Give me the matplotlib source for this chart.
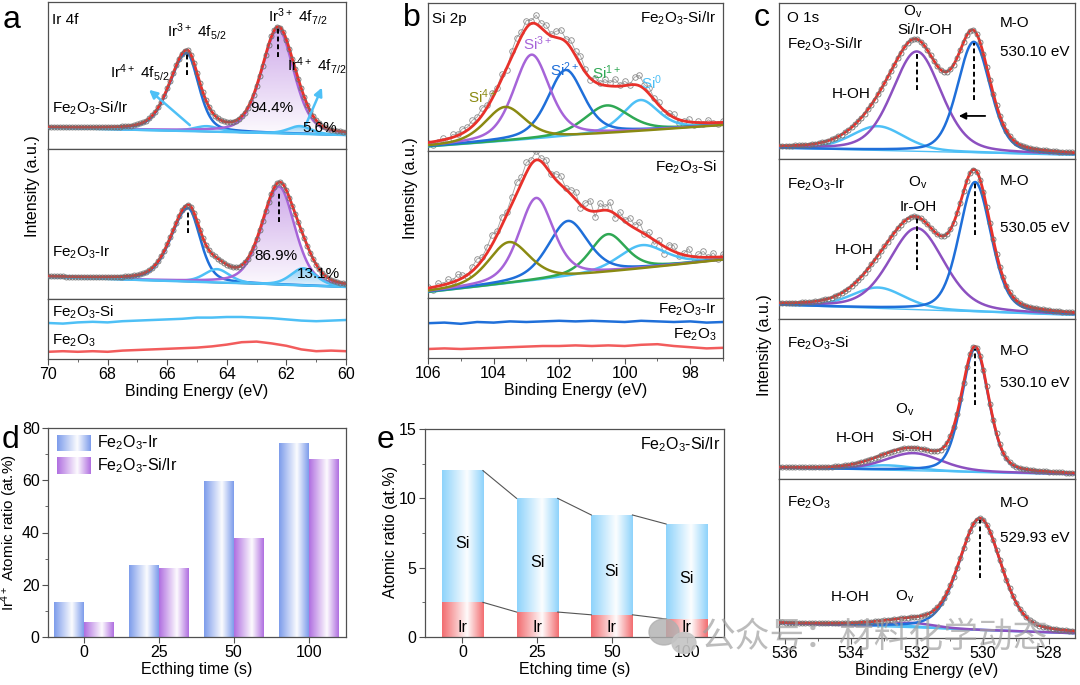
import numpy as np
import matplotlib.pyplot as plt
from matplotlib.colors import to_rgb
from matplotlib.patches import Ellipse

plt.rcParams['font.family'] = ['Liberation Sans', 'DejaVu Sans']
plt.rcParams['mathtext.default'] = 'regular'
plt.rcParams['axes.linewidth'] = 0.9
plt.rcParams['axes.edgecolor'] = '#505050'
plt.rcParams['xtick.color'] = '#505050'
plt.rcParams['ytick.color'] = '#505050'
plt.rcParams['xtick.labelcolor'] = 'black'
plt.rcParams['ytick.labelcolor'] = 'black'

RED = '#e8312b'
BLUE = '#1f6fd9'
PURPLE = '#a664d8'
PURPLE_C = '#8c50c0'
LBLUE = '#4ec0f6'
OLIVE = '#8a8a12'
GREEN = '#2fa854'
BASE = '#1e3d5c'

# ---- a: Ir 4f ---- components: Ir3+ 4f5/2, Ir4+ 4f5/2, Ir3+ 4f7/2, Ir4+ 4f7/2
A1_CEN = [65.35, 64.67, 62.28, 61.55]
A1_HGT = [0.53, 0.037, 0.71, 0.053]
A1_WHI = [1.35, 1.0, 1.30, 0.9]
A1_WLO = [0.95, 1.0, 1.25, 0.9]
A1_BG = [0.145, 0.095]
A2_CEN = [65.30, 64.33, 62.25, 61.43]
A2_HGT = [0.49, 0.09, 0.655, 0.115]
A2_WHI = [1.35, 1.0, 1.35, 1.0]
A2_WLO = [0.95, 1.0, 1.25, 1.0]
A2_BG = [0.147, 0.08]
A3_E = [70, 69.5, 69, 68.5, 68, 67.5, 67, 66.5, 66, 65.5, 65, 64.5, 64, 63.5, 63,
        62.5, 62, 61.5, 61, 60.5, 60]
A3_SI = [0.60, 0.59, 0.61, 0.62, 0.61, 0.63, 0.64, 0.65, 0.66, 0.67, 0.69, 0.69, 0.70,
         0.70, 0.69, 0.68, 0.66, 0.64, 0.63, 0.64, 0.65]
A3_FE = [0.12, 0.13, 0.12, 0.13, 0.12, 0.14, 0.15, 0.16, 0.17, 0.18, 0.19, 0.21, 0.24,
         0.28, 0.29, 0.26, 0.22, 0.16, 0.13, 0.14, 0.13]

# ---- b: Si 2p ---- components: Si4+, Si3+, Si2+, Si1+, Si0
B1_CEN = [103.65, 102.84, 101.80, 100.55, 99.52]
B1_HGT = [0.23, 0.57, 0.45, 0.19, 0.21]
B1_FW = [1.45, 1.3, 1.3, 1.6, 1.3]
B1_BG = [0.03, 0.175]
B2_CEN = [103.53, 102.70, 101.73, 100.51, 99.48]
B2_HGT = [0.28, 0.56, 0.38, 0.26, 0.16]
B2_FW = [1.5, 1.25, 1.45, 1.3, 1.7]
B2_BG = [0.04, 0.26]
B1_RES = [0.00, -0.02, -0.01, 0.01, -0.01, 0.02, 0.01, 0.03, 0.02, 0.04,
          0.03, 0.05, 0.02, 0.04, 0.01, 0.03, -0.01, 0.04, 0.06, 0.03,
          0.05, 0.02, 0.06, 0.03, 0.05, 0.01, 0.04, 0.06, 0.02, 0.05,
          0.03, 0.06, 0.02, -0.01, 0.03, 0.01, 0.04, 0.02, 0.05, 0.01,
          0.03, 0.00, 0.05, 0.07, 0.03, 0.04, 0.01, 0.02, -0.01, 0.01,
          0.02, -0.02, 0.00, 0.02, -0.02, 0.01, -0.01, 0.02, 0.00, -0.01, 0.01]
B2_RES = [0.01, -0.02, 0.02, 0.00, 0.03, 0.01, 0.04, 0.02, -0.01, 0.03,
          0.05, 0.02, 0.04, 0.07, 0.03, 0.06, 0.02, 0.05, 0.08, 0.04,
          0.07, 0.03, 0.06, 0.02, 0.05, 0.00, 0.04, 0.06, 0.01, 0.03,
          0.05, -0.02, 0.04, 0.07, -0.04, 0.05, 0.02, 0.06, -0.03, 0.04,
          0.01, 0.05, 0.02, 0.06, 0.00, 0.03, -0.03, 0.02, -0.05, 0.03,
          0.04, -0.02, 0.01, 0.05, -0.01, 0.02, 0.04, 0.00, 0.03, -0.01, 0.02]
B3_E = [106, 105.5, 105, 104.5, 104, 103.5, 103, 102.5, 102, 101.5, 101, 100.5, 100,
        99.5, 99, 98.5, 98, 97.5, 97]
B3_IR = [0.58, 0.59, 0.57, 0.60, 0.59, 0.61, 0.60, 0.61, 0.62, 0.61, 0.62, 0.61, 0.60,
         0.62, 0.61, 0.60, 0.61, 0.59, 0.60]
B3_FE = [0.15, 0.16, 0.15, 0.16, 0.17, 0.18, 0.19, 0.20, 0.20, 0.21, 0.20, 0.21, 0.20,
         0.22, 0.23, 0.20, 0.18, 0.16, 0.17]

# ---- c: O 1s ---- components: H-OH, Ov/M-OH, M-O
C_CEN = [[533.18, 532.00, 530.27], [533.17, 532.00, 530.23],
         [532.90, 532.10, 530.23], [533.00, 532.15, 530.08]]
C_HGT = [[0.155, 0.64, 0.71], [0.13, 0.51, 0.81], [0.03, 0.11, 0.77], [0.012, 0.03, 0.70]]
C_FW = [[1.9, 1.75, 1.17], [1.9, 1.95, 1.14], [2.0, 2.0, 0.97], [2.5, 1.6, 1.5]]
C_BG = [[0.07, 0.026], [0.0875, 0.025], [0.07, 0.03], [0.094, 0.03]]

# ---- d / e ----
TIMES = ['0', '25', '50', '100']
IR4_FE_IR = [13.1, 27.4, 59.4, 74.0]
IR4_FE_SIIR = [5.6, 26.4, 37.8, 67.8]
E_IR = [2.5, 1.8, 1.6, 1.3]
E_SI = [9.5, 8.2, 7.2, 6.85]

W, H = 1080, 685
fig = plt.figure(figsize=(W / 100, H / 100), dpi=100)
FS = 11
TS = 11.5


def add_ax(x0, y0, x1, y1):
    return fig.add_axes([x0 / W, 1 - y1 / H, (x1 - x0) / W, (y1 - y0) / H])


def ftxt(px, py, s, **kw):
    kw.setdefault('fontsize', FS)
    kw.setdefault('va', 'center')
    fig.text(px / W, 1 - py / H, s, **kw)


def peak(x, c, h, whi, wlo=None, eta=0.3):
    if wlo is None:
        wlo = whi
    w = np.where(x > c, whi, wlo)
    g = np.exp(-4 * np.log(2) * ((x - c) / w) ** 2)
    lo = 1 / (1 + (2 * (x - c) / w) ** 2)
    return h * ((1 - eta) * g + eta * lo)


def linbg(x, bg, xl, xr):
    return bg[0] + (bg[1] - bg[0]) * (xl - x) / (xl - xr)


def grad_fill(ax, x, ytop, ybot, color, a_top=0.6, a_bot=0.05):
    poly = ax.fill_between(x, ybot, ytop, color='none', lw=0)
    rgb = to_rgb(color)
    img = np.ones((128, 1, 4))
    img[..., :3] = rgb
    img[:, 0, 3] = np.linspace(a_top, a_bot, 128)
    im = ax.imshow(img, extent=[x.min(), x.max(), ybot.min(), ytop.max()],
                   aspect='auto', origin='upper', zorder=1, interpolation='bilinear')
    im.set_clip_path(poly.get_paths()[0], transform=ax.transData)


def hgrad_bar(ax, x0, x1, y0, y1, color, z=2):
    rgb = np.array(to_rgb(color))
    t = np.linspace(0, 1, 128)
    w = np.where(t < 0.6, 1 - t / 0.6 * 0.97, 0.03 + (t - 0.6) / 0.4 * 0.97)
    img = 1 - w[None, :, None] * (1 - rgb[None, None, :])
    ax.imshow(img, extent=[x0, x1, y0, y1], aspect='auto', zorder=z,
              interpolation='bilinear')


def spec_style(ax, xl, xr, ticks=None):
    ax.set_xlim(xl, xr)
    ax.set_ylim(0, 1)
    ax.set_yticks([])
    if ticks is not None:
        ax.set_xticks(ticks)
        ax.set_xticklabels([f'{v:g}' for v in ticks])
        lo = np.ceil(min(xl, xr))
        ax.set_xticks(np.arange(lo, max(xl, xr) + 0.01, 1), minor=True)
        ax.tick_params(axis='x', which='major', direction='out', length=4, labelsize=TS, pad=2)
        ax.tick_params(axis='x', which='minor', direction='out', length=2)
        ax.set_xlabel('Binding Energy (eV)', fontsize=TS, labelpad=1)
    else:
        ax.set_xticks([])


# ================= panel a =================
xa = np.linspace(70, 60, 601)
xa_dat = np.arange(70, 59.95, -0.1)
a_axes = [add_ax(48, 2, 346, 149), add_ax(48, 149, 346, 299), add_ax(48, 299, 346, 359)]
for ax, cen, hgt, whi, wlo, bg in [(a_axes[0], A1_CEN, A1_HGT, A1_WHI, A1_WLO, A1_BG),
                                   (a_axes[1], A2_CEN, A2_HGT, A2_WHI, A2_WLO, A2_BG)]:
    base = linbg(xa, bg, 70, 60)
    comps = [peak(xa, c, h, wh, wl, 0.35) for c, h, wh, wl in zip(cen, hgt, whi, wlo)]
    env = base + sum(comps)
    grad_fill(ax, xa, base + comps[2], base, PURPLE, 0.55, 0.03)
    grad_fill(ax, xa, base + comps[3], base, LBLUE, 0.6, 0.1)
    ax.plot(xa, base, color=BASE, lw=1.0, zorder=3)
    for comp, col in zip(comps, [BLUE, LBLUE, PURPLE, LBLUE]):
        ax.plot(xa, base + comp, color=col, lw=1.8, zorder=3)
    envd = linbg(xa_dat, bg, 70, 60) + sum(peak(xa_dat, c, h, wh, wl, 0.35)
                                             for c, h, wh, wl in zip(cen, hgt, whi, wlo))
    ax.plot(xa, env, color=RED, lw=2.0, zorder=4)
    ax.plot(xa_dat, envd, 'o', ms=3.6, mfc='none', mec='#707070', mew=0.6, zorder=5)
    spec_style(ax, 70, 60)
dash = (0, (2.5, 1.5))
a_axes[0].vlines(A1_CEN[0], 0.503, 0.653, colors='k', linestyles=dash, lw=1.4, zorder=6)
a_axes[0].vlines(A1_CEN[2], 0.626, 0.823, colors='k', linestyles=dash, lw=1.4, zorder=6)
a_axes[1].vlines(A2_CEN[0], 0.44, 0.593, colors='k', linestyles=dash, lw=1.4, zorder=6)
a_axes[1].vlines(A2_CEN[2], 0.513, 0.713, colors='k', linestyles=dash, lw=1.4, zorder=6)
a_axes[0].annotate('', xy=(66.68, 0.415), xytext=(65.17, 0.15),
                   arrowprops=dict(arrowstyle='-|>', color=LBLUE, lw=1.8, mutation_scale=12), zorder=6)
a_axes[0].annotate('', xy=(60.77, 0.435), xytext=(61.38, 0.15),
                   arrowprops=dict(arrowstyle='-|>', color=LBLUE, lw=1.8, mutation_scale=12), zorder=6)
ax = a_axes[2]
ax.plot(A3_E, A3_SI, color=LBLUE, lw=1.8)
ax.plot(A3_E, A3_FE, color='#f25c5c', lw=1.8)
spec_style(ax, 70, 60, ticks=[70, 68, 66, 64, 62, 60])

ftxt(52, 20, 'Ir 4f')
ftxt(197, 31, 'Ir$^{3+}$ 4f$_{5/2}$', ha='center')
ftxt(298, 16, 'Ir$^{3+}$ 4f$_{7/2}$', ha='center')
ftxt(140, 72, 'Ir$^{4+}$ 4f$_{5/2}$', ha='center')
ftxt(347, 65, 'Ir$^{4+}$ 4f$_{7/2}$', ha='right')
ftxt(272, 108, '94.4%', ha='center')
ftxt(320, 128, '5.6%', ha='center')
ftxt(52, 108, 'Fe$_2$O$_3$-Si/Ir')
ftxt(52, 253, 'Fe$_2$O$_3$-Ir')
ftxt(276, 256, '86.9%', ha='center')
ftxt(318, 274, '13.1%', ha='center')
ftxt(52, 312, 'Fe$_2$O$_3$-Si')
ftxt(52, 341, 'Fe$_2$O$_3$')
ftxt(33, 186, 'Intensity (a.u.)', rotation=90, ha='center', fontsize=TS)

# ================= panel b =================
xb = np.linspace(106, 97, 451)
xb_dat = np.linspace(106, 97, 61)
b_axes = [add_ax(428, 3, 723, 151), add_ax(428, 151, 723, 298), add_ax(428, 298, 723, 358)]
b_cols = [OLIVE, PURPLE, BLUE, GREEN, LBLUE]
for ax, cen, hgt, fw, bg, res in [(b_axes[0], B1_CEN, B1_HGT, B1_FW, B1_BG, B1_RES),
                                  (b_axes[1], B2_CEN, B2_HGT, B2_FW, B2_BG, B2_RES)]:
    base = linbg(xb, bg, 106, 97)
    comps = [peak(xb, c, h, w, eta=0.45) for c, h, w in zip(cen, hgt, fw)]
    envd = linbg(xb_dat, bg, 106, 97) + sum(peak(xb_dat, c, h, w, eta=0.45)
                                            for c, h, w in zip(cen, hgt, fw))
    ax.plot(xb_dat, envd + np.array(res), '-o', color='#a0a0a0', lw=0.6, ms=4, mfc='none',
            mec='#8a8a8a', mew=0.6, zorder=2)
    for comp, col in zip(comps[::-1], b_cols[::-1]):
        ax.plot(xb, base + comp, color=col, lw=1.8, zorder=3)
    ax.plot(xb, base + sum(comps), color=RED, lw=2.0, zorder=4)
    spec_style(ax, 106, 97)
ax = b_axes[2]
ax.plot(B3_E, B3_IR, color=BLUE, lw=1.8)
ax.plot(B3_E, B3_FE, color='#f25c5c', lw=1.8)
spec_style(ax, 106, 97, ticks=[106, 104, 102, 100, 98])

ftxt(432, 19, 'Si 2p')
ftxt(717, 18, 'Fe$_2$O$_3$-Si/Ir', ha='right')
ftxt(483, 97, 'Si$^{4+}$', ha='center', color=OLIVE)
ftxt(538, 44, 'Si$^{3+}$', ha='center', color=PURPLE)
ftxt(565, 70, 'Si$^{2+}$', ha='center', color=BLUE)
ftxt(607, 73, 'Si$^{1+}$', ha='center', color=GREEN)
ftxt(652, 83, 'Si$^{0}$', ha='center', color=LBLUE)
ftxt(717, 167, 'Fe$_2$O$_3$-Si', ha='right')
ftxt(717, 310, 'Fe$_2$O$_3$-Ir', ha='right')
ftxt(717, 335, 'Fe$_2$O$_3$', ha='right')
ftxt(411, 188, 'Intensity (a.u.)', rotation=90, ha='center', fontsize=TS)

# ================= panel c =================
xc = np.linspace(536.18, 527.2, 451)
xc_dat = np.arange(536.18, 527.2, -0.1)
c_rows = [(3, 159), (159, 319), (319, 479), (479, 638)]
c_axes = []
for i, (y0, y1) in enumerate(c_rows):
    ax = add_ax(779, y0, 1075, y1)
    c_axes.append(ax)
    base = linbg(xc, C_BG[i], 536.18, 527.2)
    comps = [peak(xc, c, h, w) for c, h, w in zip(C_CEN[i], C_HGT[i], C_FW[i])]
    envd = linbg(xc_dat, C_BG[i], 536.18, 527.2) + sum(
        peak(xc_dat, c, h, w) for c, h, w in zip(C_CEN[i], C_HGT[i], C_FW[i]))
    ax.plot(xc, base, color=LBLUE, lw=1.0, zorder=3)
    for comp, col in zip(comps, [LBLUE, PURPLE_C, BLUE]):
        ax.plot(xc, base + comp, color=col, lw=1.8, zorder=3)
    ax.plot(xc, base + sum(comps), color=RED, lw=2.0, zorder=4)
    ax.plot(xc_dat, envd, 'o', ms=3.6, mfc='none', mec='#707070', mew=0.6, zorder=5)
    spec_style(ax, 536.18, 527.2, ticks=[536, 534, 532, 530, 528] if i == 3 else None)
c_axes[0].vlines(532.0, 0.442, 0.686, colors='k', linestyles=dash, lw=1.4, zorder=6)
c_axes[0].vlines(530.27, 0.378, 0.744, colors='k', linestyles=dash, lw=1.4, zorder=6)
c_axes[1].vlines(532.0, 0.306, 0.631, colors='k', linestyles=dash, lw=1.4, zorder=6)
c_axes[1].vlines(530.23, 0.525, 0.856, colors='k', linestyles=dash, lw=1.4, zorder=6)
c_axes[2].vlines(530.23, 0.4625, 0.81, colors='k', linestyles=dash, lw=1.4, zorder=6)
c_axes[3].vlines(530.08, 0.377, 0.742, colors='k', linestyles=dash, lw=1.4, zorder=6)
c_axes[0].annotate('', xy=(530.81, 0.276), xytext=(529.84, 0.276),
                   arrowprops=dict(arrowstyle='-|>', color='k', lw=1.3, mutation_scale=10), zorder=6)

ftxt(787, 18, 'O 1s')
ftxt(787, 44, 'Fe$_2$O$_3$-Si/Ir')
ftxt(913, 12, 'O$_v$', ha='center')
ftxt(925, 30, 'Si/Ir-OH', ha='center')
ftxt(851, 94, 'H-OH', ha='center')
ftxt(1000, 23, 'M-O')
ftxt(1000, 52, '530.10 eV')
ftxt(787, 185, 'Fe$_2$O$_3$-Ir')
ftxt(918, 183, 'O$_v$', ha='center')
ftxt(918, 207, 'Ir-OH', ha='center')
ftxt(854, 250, 'H-OH', ha='center')
ftxt(1000, 181, 'M-O')
ftxt(1000, 228, '530.05 eV')
ftxt(787, 343, 'Fe$_2$O$_3$-Si')
ftxt(905, 410, 'O$_v$', ha='center')
ftxt(912, 437, 'Si-OH', ha='center')
ftxt(855, 438, 'H-OH', ha='center')
ftxt(1000, 351, 'M-O')
ftxt(1000, 383, '530.10 eV')
ftxt(787, 503, 'Fe$_2$O$_3$')
ftxt(1000, 503, 'M-O')
ftxt(1000, 538, '529.93 eV')
ftxt(850, 597, 'H-OH', ha='center')
ftxt(905, 597, 'O$_v$', ha='center')
ftxt(765, 345, 'Intensity (a.u.)', rotation=90, ha='center', fontsize=TS)

# ================= panel d =================
axd = add_ax(48, 428, 346, 637)
pos = np.arange(len(TIMES))
for i in pos:
    hgrad_bar(axd, i - 0.4, i, 0, IR4_FE_IR[i], '#7d9ceb')
    hgrad_bar(axd, i, i + 0.4, 0, IR4_FE_SIIR[i], '#b06fe0')
hgrad_bar(axd, -0.36, 0.093, 71.3, 77.4, '#7d9ceb')
hgrad_bar(axd, -0.36, 0.093, 62.4, 68.6, '#b06fe0')
axd.text(0.17, 74.3, 'Fe$_2$O$_3$-Ir', fontsize=TS, va='center')
axd.text(0.17, 65.5, 'Fe$_2$O$_3$-Si/Ir', fontsize=TS, va='center')
axd.set_xlim(-0.48, 3.5)
axd.set_ylim(0, 80)
axd.set_xticks(pos)
axd.set_xticklabels(TIMES)
axd.set_yticks([0, 20, 40, 60, 80])
axd.set_yticks([10, 30, 50, 70], minor=True)
axd.tick_params(direction='out', length=4, labelsize=TS, pad=2)
axd.tick_params(which='minor', direction='out', length=2)
axd.set_xlabel('Ecthing time (s)', fontsize=TS, labelpad=1)
ftxt(9, 533, 'Ir$^{4+}$ Atomic ratio (at.%)', rotation=90, ha='center', fontsize=11)

# ================= panel e =================
axe = add_ax(425, 429, 724, 637)
bw = 0.55
tops = [a + b for a, b in zip(E_IR, E_SI)]
for i in pos:
    hgrad_bar(axe, i - bw / 2, i + bw / 2, 0, E_IR[i], '#f26d70')
    hgrad_bar(axe, i - bw / 2, i + bw / 2, E_IR[i], tops[i], '#8ed3fb')
    axe.text(i, E_IR[i] + E_SI[i] / 2 - 0.5, 'Si', ha='center', va='center', fontsize=TS, zorder=4)
    axe.text(i, 0.7, 'Ir', ha='center', va='center', fontsize=TS, zorder=4)
for i in pos[:-1]:
    axe.plot([i + bw / 2, i + 1 - bw / 2], [tops[i], tops[i + 1]], color='#555555', lw=0.8, zorder=3)
    axe.plot([i + bw / 2, i + 1 - bw / 2], [E_IR[i], E_IR[i + 1]], color='#555555', lw=0.8, zorder=3)
axe.text(3.45, 13.9, 'Fe$_2$O$_3$-Si/Ir', ha='right', va='center', fontsize=TS)
axe.set_xlim(-0.5, 3.5)
axe.set_ylim(0, 15)
axe.set_xticks(pos)
axe.set_xticklabels(TIMES)
axe.set_yticks([0, 5, 10, 15])
axe.set_yticks([2.5, 7.5, 12.5], minor=True)
axe.tick_params(direction='out', length=4, labelsize=TS, pad=2)
axe.tick_params(which='minor', direction='out', length=2)
axe.set_xlabel('Etching time (s)', fontsize=TS, labelpad=1)
ftxt(391, 532, 'Atomic ratio (at.%)', rotation=90, ha='center', fontsize=TS)

# panel letters
for px, py, s in [(3, 20, 'a'), (403, 18, 'b'), (754, 18, 'c'), (2, 440, 'd'), (377, 440, 'e')]:
    ftxt(px, py, s, fontsize=23)

# watermark
fig.add_artist(Ellipse((664 / W, 1 - 632 / H), 30 / W, 26 / H, transform=fig.transFigure,
                       color='#b0b0b0', alpha=0.8))
fig.add_artist(Ellipse((684 / W, 1 - 643 / H), 24 / W, 21 / H, transform=fig.transFigure,
                       color='#c4c4c4', alpha=0.9))
ftxt(700, 637, '公众号：材料化学动态', fontsize=25, color='#a0a0a0', alpha=0.7,
     family=['Noto Sans CJK SC', 'DejaVu Sans'])

fig.savefig('out.png', dpi=100)
